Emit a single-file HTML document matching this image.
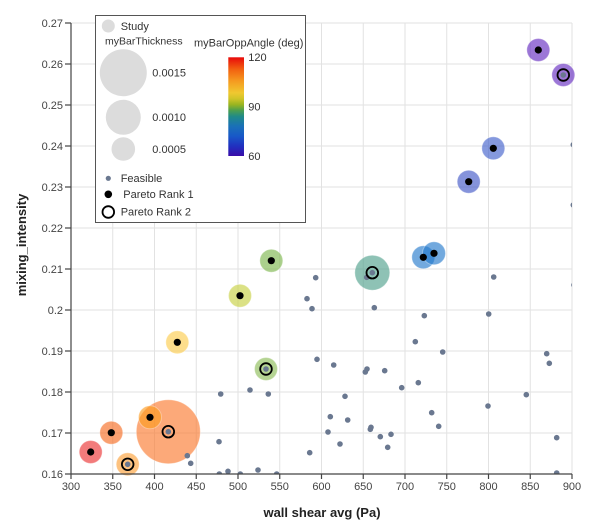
<!DOCTYPE html>
<html><head><meta charset="utf-8"><style>
html,body{margin:0;padding:0;background:#fff;}
svg{display:block;font-family:"Liberation Sans",sans-serif;}
</style></head><body>
<svg width="600" height="530" viewBox="0 0 600 530" xmlns="http://www.w3.org/2000/svg">
<defs>
<clipPath id="pc"><rect x="71" y="23" width="501" height="451"/></clipPath>
<linearGradient id="cb" x1="0" y1="1" x2="0" y2="0">
<stop offset="0" stop-color="#3a0ca8"/>
<stop offset="0.1" stop-color="#2030c0"/>
<stop offset="0.2" stop-color="#1858c8"/>
<stop offset="0.3" stop-color="#1a70b8"/>
<stop offset="0.4" stop-color="#208a88"/>
<stop offset="0.46" stop-color="#4a9e50"/>
<stop offset="0.52" stop-color="#98b420"/>
<stop offset="0.58" stop-color="#d0c428"/>
<stop offset="0.64" stop-color="#f0c830"/>
<stop offset="0.76" stop-color="#f59a20"/>
<stop offset="0.88" stop-color="#f26010"/>
<stop offset="1" stop-color="#e80a0a"/>
</linearGradient>
</defs>
<rect width="600" height="530" fill="#fff"/>
<!-- grid -->
<g stroke="#e2e2e2" stroke-width="1">
<line x1="112.75" y1="23" x2="112.75" y2="474"/><line x1="154.5" y1="23" x2="154.5" y2="474"/><line x1="196.25" y1="23" x2="196.25" y2="474"/><line x1="238" y1="23" x2="238" y2="474"/><line x1="279.75" y1="23" x2="279.75" y2="474"/><line x1="321.5" y1="23" x2="321.5" y2="474"/><line x1="363.25" y1="23" x2="363.25" y2="474"/><line x1="405" y1="23" x2="405" y2="474"/><line x1="446.75" y1="23" x2="446.75" y2="474"/><line x1="488.5" y1="23" x2="488.5" y2="474"/><line x1="530.25" y1="23" x2="530.25" y2="474"/><line x1="572" y1="23" x2="572" y2="474"/>
<line x1="71" y1="23" x2="572" y2="23"/><line x1="71" y1="64" x2="572" y2="64"/><line x1="71" y1="105" x2="572" y2="105"/><line x1="71" y1="146" x2="572" y2="146"/><line x1="71" y1="187" x2="572" y2="187"/><line x1="71" y1="228" x2="572" y2="228"/><line x1="71" y1="269" x2="572" y2="269"/><line x1="71" y1="310" x2="572" y2="310"/><line x1="71" y1="351" x2="572" y2="351"/><line x1="71" y1="392" x2="572" y2="392"/><line x1="71" y1="433" x2="572" y2="433"/>
</g>
<!-- bubbles -->
<g fill-opacity="0.64" stroke="#fff" stroke-opacity="0.35" stroke-width="1">
<circle cx="538.3" cy="50" r="11.5" fill="#642ac0"/>
<circle cx="563.3" cy="75" r="11.5" fill="#642ac0"/>
<circle cx="493.3" cy="148.3" r="11.5" fill="#4060cb"/>
<circle cx="468.7" cy="181.7" r="11.5" fill="#4056c7"/>
<circle cx="423.3" cy="257.3" r="11.5" fill="#2378cb"/>
<circle cx="434" cy="253.3" r="11.5" fill="#2378cb"/>
<circle cx="372.3" cy="272.7" r="17.5" fill="#4ea08b"/>
<circle cx="271.3" cy="260.7" r="11.5" fill="#7bb64b"/>
<circle cx="240" cy="295.7" r="11.5" fill="#c6d040"/>
<circle cx="177.3" cy="342.3" r="11.5" fill="#fccb4b"/>
<circle cx="266" cy="369" r="11.5" fill="#8bbb56"/>
<circle cx="168.3" cy="431.7" r="32" fill="#fa782e"/>
<circle cx="150" cy="417.3" r="11.5" fill="#fc9b20"/>
<circle cx="111.3" cy="432.7" r="11.5" fill="#f66b20"/>
<circle cx="90.7" cy="452" r="11.5" fill="#eb3030"/>
<circle cx="127.7" cy="464.3" r="11.5" fill="#fca036"/>
</g>
<!-- feasible -->
<g fill="#6a7890" clip-path="url(#pc)">
<circle cx="315.7" cy="277.7" r="2.8"/><circle cx="307" cy="298.7" r="2.8"/><circle cx="312" cy="308.7" r="2.8"/><circle cx="374.3" cy="307.7" r="2.8"/><circle cx="493.7" cy="277" r="2.8"/><circle cx="574" cy="285" r="2.8"/><circle cx="424.3" cy="315.7" r="2.8"/><circle cx="488.7" cy="314" r="2.8"/><circle cx="415.3" cy="341.7" r="2.8"/><circle cx="442.7" cy="352" r="2.8"/><circle cx="317" cy="359.3" r="2.8"/><circle cx="333.7" cy="365" r="2.8"/><circle cx="367" cy="369" r="2.8"/><circle cx="365.3" cy="372" r="2.8"/><circle cx="384.7" cy="370.7" r="2.8"/><circle cx="546.7" cy="353.7" r="2.8"/><circle cx="549.3" cy="363.3" r="2.8"/><circle cx="418.3" cy="382.7" r="2.8"/><circle cx="401.7" cy="387.7" r="2.8"/><circle cx="345" cy="396.3" r="2.8"/><circle cx="526.3" cy="394.7" r="2.8"/><circle cx="488" cy="406" r="2.8"/><circle cx="431.7" cy="412.7" r="2.8"/><circle cx="438.7" cy="426.3" r="2.8"/><circle cx="330.3" cy="416.7" r="2.8"/><circle cx="347.7" cy="420" r="2.8"/><circle cx="328" cy="432" r="2.8"/><circle cx="371" cy="427.3" r="2.8"/><circle cx="370.3" cy="429.3" r="2.8"/><circle cx="380.3" cy="436.7" r="2.8"/><circle cx="391" cy="434.3" r="2.8"/><circle cx="340" cy="444" r="2.8"/><circle cx="387.7" cy="447.3" r="2.8"/><circle cx="309.7" cy="452.7" r="2.8"/><circle cx="556.7" cy="437.7" r="2.8"/><circle cx="556.7" cy="473" r="2.8"/><circle cx="573.3" cy="144.7" r="2.8"/><circle cx="573.3" cy="205" r="2.8"/><circle cx="220.7" cy="394" r="2.8"/><circle cx="250" cy="390" r="2.8"/><circle cx="268.3" cy="394" r="2.8"/><circle cx="219" cy="441.7" r="2.8"/><circle cx="187.3" cy="455.7" r="2.8"/><circle cx="190.7" cy="463.3" r="2.8"/><circle cx="219.3" cy="474" r="2.8"/><circle cx="228" cy="471.3" r="2.8"/><circle cx="240.3" cy="474" r="2.8"/><circle cx="258" cy="470" r="2.8"/><circle cx="276.7" cy="474" r="2.8"/><circle cx="366.7" cy="277.3" r="2.8"/>
<circle cx="563.3" cy="75" r="2.8"/><circle cx="372.3" cy="272.7" r="2.8"/><circle cx="266" cy="369" r="2.8"/><circle cx="168.3" cy="431.7" r="2.8"/><circle cx="127.7" cy="464.3" r="2.8"/>
</g>
<!-- pareto rank 1 -->
<g fill="#000">
<circle cx="538.3" cy="50" r="3.6"/><circle cx="493.3" cy="148.3" r="3.6"/><circle cx="468.7" cy="181.7" r="3.6"/><circle cx="423.3" cy="257.3" r="3.6"/><circle cx="434" cy="253.3" r="3.6"/><circle cx="271.3" cy="260.7" r="3.6"/><circle cx="240" cy="295.7" r="3.6"/><circle cx="177.3" cy="342.3" r="3.6"/><circle cx="150" cy="417.3" r="3.6"/><circle cx="111.3" cy="432.7" r="3.6"/><circle cx="90.7" cy="452" r="3.6"/>
</g>
<!-- pareto rank 2 -->
<g fill="none" stroke="#000" stroke-width="1.8">
<circle cx="563.3" cy="75" r="5.8"/><circle cx="372.3" cy="272.7" r="5.8"/><circle cx="266" cy="369" r="5.8"/><circle cx="168.3" cy="431.7" r="5.8"/><circle cx="127.7" cy="464.3" r="5.8"/>
</g>
<!-- axes -->
<g stroke="#444" stroke-width="1.2">
<line x1="71" y1="23" x2="71" y2="474.5"/><line x1="70.5" y1="474" x2="572" y2="474"/>
<line x1="65" y1="23" x2="71" y2="23"/><line x1="65" y1="64" x2="71" y2="64"/><line x1="65" y1="105" x2="71" y2="105"/><line x1="65" y1="146" x2="71" y2="146"/><line x1="65" y1="187" x2="71" y2="187"/><line x1="65" y1="228" x2="71" y2="228"/><line x1="65" y1="269" x2="71" y2="269"/><line x1="65" y1="310" x2="71" y2="310"/><line x1="65" y1="351" x2="71" y2="351"/><line x1="65" y1="392" x2="71" y2="392"/><line x1="65" y1="433" x2="71" y2="433"/><line x1="65" y1="474" x2="71" y2="474"/>
<line x1="71" y1="474" x2="71" y2="479"/><line x1="112.75" y1="474" x2="112.75" y2="479"/><line x1="154.5" y1="474" x2="154.5" y2="479"/><line x1="196.25" y1="474" x2="196.25" y2="479"/><line x1="238" y1="474" x2="238" y2="479"/><line x1="279.75" y1="474" x2="279.75" y2="479"/><line x1="321.5" y1="474" x2="321.5" y2="479"/><line x1="363.25" y1="474" x2="363.25" y2="479"/><line x1="405" y1="474" x2="405" y2="479"/><line x1="446.75" y1="474" x2="446.75" y2="479"/><line x1="488.5" y1="474" x2="488.5" y2="479"/><line x1="530.25" y1="474" x2="530.25" y2="479"/><line x1="572" y1="474" x2="572" y2="479"/>
</g>
<g font-size="11" fill="#444" text-anchor="end">
<text x="63" y="27">0.27</text><text x="63" y="68">0.26</text><text x="63" y="109">0.25</text><text x="63" y="150">0.24</text><text x="63" y="191">0.23</text><text x="63" y="232">0.22</text><text x="63" y="273">0.21</text><text x="63" y="314">0.2</text><text x="63" y="355">0.19</text><text x="63" y="396">0.18</text><text x="63" y="437">0.17</text><text x="63" y="478">0.16</text>
</g>
<g font-size="11" fill="#444" text-anchor="middle">
<text x="71" y="490">300</text><text x="112.75" y="490">350</text><text x="154.5" y="490">400</text><text x="196.25" y="490">450</text><text x="238" y="490">500</text><text x="279.75" y="490">550</text><text x="321.5" y="490">600</text><text x="363.25" y="490">650</text><text x="405" y="490">700</text><text x="446.75" y="490">750</text><text x="488.5" y="490">800</text><text x="530.25" y="490">850</text><text x="572" y="490">900</text>
</g>
<text x="322" y="517" font-size="13" font-weight="bold" fill="#222" text-anchor="middle">wall shear avg (Pa)</text>
<text transform="translate(26,245) rotate(-90)" font-size="13" font-weight="bold" fill="#222" text-anchor="middle">mixing_intensity</text>
<!-- legend -->
<rect x="95.5" y="15.5" width="210" height="207" fill="#fff" stroke="#555" stroke-width="1"/>
<circle cx="108.3" cy="26" r="6.5" fill="#dcdcdc"/>
<text x="120.7" y="30" font-size="11" fill="#333">Study</text>
<text x="105" y="44.5" font-size="10.5" fill="#333">myBarThickness</text>
<circle cx="123.3" cy="72.7" r="23.5" fill="#dcdcdc"/>
<circle cx="123.3" cy="117.3" r="17.5" fill="#dcdcdc"/>
<circle cx="123.3" cy="149" r="11.8" fill="#dcdcdc"/>
<text x="152.3" y="76.5" font-size="11" fill="#333">0.0015</text>
<text x="152.3" y="121" font-size="11" fill="#333">0.0010</text>
<text x="152.3" y="153" font-size="11" fill="#333">0.0005</text>
<text x="194" y="46.5" font-size="11" fill="#333">myBarOppAngle (deg)</text>
<rect x="228.3" y="57.3" width="15.7" height="98.7" fill="url(#cb)"/>
<text x="248.3" y="61" font-size="11" fill="#333">120</text>
<text x="248.3" y="110.5" font-size="11" fill="#333">90</text>
<text x="248.3" y="160" font-size="11" fill="#333">60</text>
<circle cx="108.3" cy="178.3" r="2.6" fill="#6a7890"/>
<text x="120.7" y="182" font-size="11" fill="#333">Feasible</text>
<circle cx="108.3" cy="194.3" r="3.8" fill="#000"/>
<text x="123.3" y="198" font-size="11" fill="#333">Pareto Rank 1</text>
<circle cx="108.3" cy="212" r="5.8" fill="none" stroke="#000" stroke-width="1.8"/>
<text x="120.7" y="215.5" font-size="11" fill="#333">Pareto Rank 2</text>
</svg>
</body></html>
